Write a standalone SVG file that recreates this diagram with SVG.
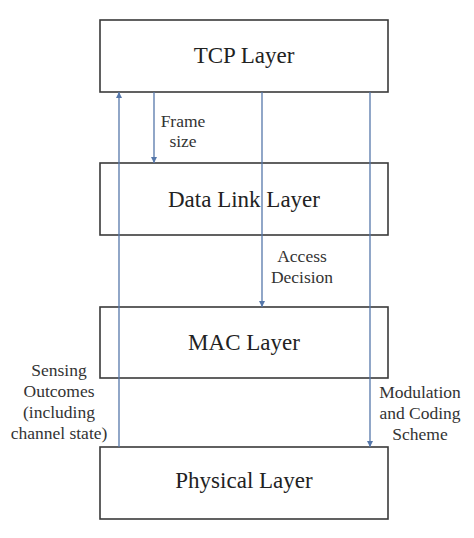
<svg xmlns="http://www.w3.org/2000/svg" width="474" height="538" viewBox="0 0 474 538">
<style>
.box{fill:#fff;stroke:#3a3a3a;stroke-width:1.6}
.t{font-family:"Liberation Serif",serif;font-size:23px;fill:#222;text-anchor:middle}
.l{font-family:"Liberation Serif",serif;font-size:17.5px;fill:#333;text-anchor:middle}
.c{stroke:#5577aa;stroke-width:1.3;fill:none}
</style>
<defs>
<marker id="ah" viewBox="0 0 10 10" refX="10" refY="5" markerWidth="7" markerHeight="6" orient="auto-start-reverse" markerUnits="userSpaceOnUse">
<path d="M0,0 L10,5 L0,10 z" fill="#5577aa"/>
</marker>
</defs>
<rect width="474" height="538" fill="#fff"/>
<g id="tcp"><rect class="box" x="100" y="20" width="288" height="72"/><text class="t" x="244" y="63">TCP Layer</text></g>
<g id="dll"><rect class="box" x="100" y="163" width="288" height="72"/><text class="t" x="244" y="207">Data Link Layer</text></g>
<g id="mac"><rect class="box" x="100" y="307" width="288" height="71"/><text class="t" x="244" y="350">MAC Layer</text></g>
<g id="phy"><rect class="box" x="100" y="447" width="288" height="72"/><text class="t" x="244" y="488">Physical Layer</text></g>
<g id="connectors">
<line class="c" x1="119" y1="447" x2="119" y2="92" marker-end="url(#ah)"/>
<line class="c" x1="154" y1="92" x2="154" y2="163" marker-end="url(#ah)"/>
<line class="c" x1="262" y1="92" x2="262" y2="307" marker-end="url(#ah)"/>
<line class="c" x1="370" y1="92" x2="370" y2="447" marker-end="url(#ah)"/>
<text class="l" x="183" y="127">Frame</text>
<text class="l" x="183" y="147">size</text>
<text class="l" x="302" y="262">Access</text>
<text class="l" x="302" y="283">Decision</text>
<text class="l" x="59" y="376">Sensing</text>
<text class="l" x="59" y="397">Outcomes</text>
<text class="l" x="59" y="418">(including</text>
<text class="l" x="59" y="439">channel state)</text>
<text class="l" x="420" y="398">Modulation</text>
<text class="l" x="420" y="419">and Coding</text>
<text class="l" x="420" y="440">Scheme</text>
</g>
</svg>
